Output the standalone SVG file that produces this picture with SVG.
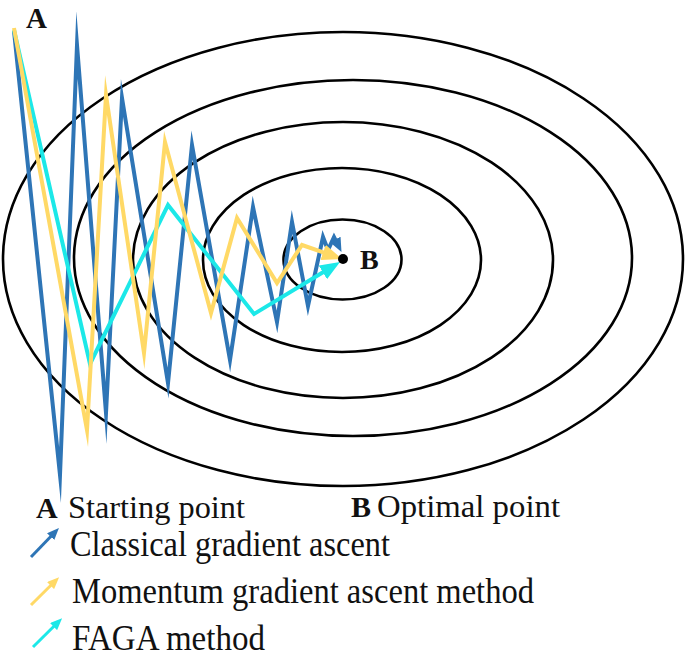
<svg xmlns="http://www.w3.org/2000/svg" width="685" height="663" viewBox="0 0 685 663">
<style>
.ring{fill:none;stroke:#000;stroke-width:2.6}
.path{fill:none;stroke-width:4;stroke-linejoin:miter;stroke-miterlimit:20}
.blue{stroke:#2E75B6}
.yellow{stroke:#FFD966}
.cyan{stroke:#1CE8E8}
.leg{fill:none;stroke-width:3}
.lbl{font-family:"Liberation Serif","Times New Roman",serif;fill:#111}
.bold{font-weight:bold}
.big{font-size:35px}
.mid{font-size:32px}
</style>
<defs>
<marker id="ah-b" viewBox="0 0 14 12" markerWidth="14" markerHeight="12" refX="4" refY="6" orient="auto" markerUnits="userSpaceOnUse"><path d="M0,0 L14,6 L0,12 z" fill="#2E75B6"/></marker>
<marker id="ah-y" viewBox="0 0 20 16" markerWidth="20" markerHeight="16" refX="4" refY="8" orient="auto" markerUnits="userSpaceOnUse"><path d="M0,0 L20,8 L0,16 z" fill="#FFD966"/></marker>
<marker id="ah-c" viewBox="0 0 20 16" markerWidth="20" markerHeight="16" refX="4" refY="8" orient="auto" markerUnits="userSpaceOnUse"><path d="M0,0 L20,8 L0,16 z" fill="#1CE8E8"/></marker>
<marker id="lg-b" viewBox="0 0 12 10" markerWidth="12" markerHeight="10" refX="3" refY="5" orient="auto" markerUnits="userSpaceOnUse"><path d="M0,0 L12,5 L0,10 z" fill="#2E75B6"/></marker>
<marker id="lg-y" viewBox="0 0 12 10" markerWidth="12" markerHeight="10" refX="3" refY="5" orient="auto" markerUnits="userSpaceOnUse"><path d="M0,0 L12,5 L0,10 z" fill="#FFD966"/></marker>
<marker id="lg-c" viewBox="0 0 12 10" markerWidth="12" markerHeight="10" refX="3" refY="5" orient="auto" markerUnits="userSpaceOnUse"><path d="M0,0 L12,5 L0,10 z" fill="#1CE8E8"/></marker>
</defs>
<g id="contours">
<ellipse class="ring" cx="343" cy="259" rx="340" ry="227"/>
<ellipse class="ring" cx="353" cy="258" rx="279" ry="178"/>
<ellipse class="ring" cx="343" cy="260" rx="210" ry="138"/>
<ellipse class="ring" cx="342" cy="260" rx="139" ry="92"/>
<ellipse class="ring" cx="342.5" cy="259.5" rx="59" ry="40"/>
</g>
<g id="connectors">
<path class="path blue" d="M14,31 L60,475 L77,45 L106,413 L122,98 L168,383 L192,145 L230,360 L253,207 L277,322 L292,222 L308,306 L323,237 L328,250 L334,237 L337,243" marker-end="url(#ah-b)"/>
<path class="path cyan" d="M14,30 L90,364 L168,205 L254,314 L326.3,270.3" marker-end="url(#ah-c)"/>
<path class="path yellow" d="M14,28 L87,430 L106,95 L144,353 L165,142 L211,313 L237,218 L277,283 L302,245 L326.9,253.7" marker-end="url(#ah-y)"/>
</g>
<g id="nodeA">
<text class="lbl bold" x="26" y="28" font-size="29">A</text>
</g>
<g id="nodeB">
<circle cx="343" cy="259" r="5" fill="#000"/>
<text class="lbl bold" x="360" y="269" font-size="28">B</text>
</g>
<g id="legend">
<text class="lbl bold" x="36" y="518" font-size="30">A</text>
<text class="lbl mid" x="68" y="518" textLength="177" lengthAdjust="spacingAndGlyphs">Starting point</text>
<text class="lbl bold" x="351" y="517" font-size="30">B</text>
<text class="lbl mid" x="377" y="517" textLength="183" lengthAdjust="spacingAndGlyphs">Optimal point</text>
<path class="leg blue" d="M31,557 L52.7,534.5" marker-end="url(#lg-b)"/>
<text class="lbl big" x="70" y="556" textLength="320" lengthAdjust="spacingAndGlyphs">Classical gradient ascent</text>
<path class="leg yellow" d="M31,605 L52.7,583.5" marker-end="url(#lg-y)"/>
<text class="lbl big" x="72" y="603" textLength="462" lengthAdjust="spacingAndGlyphs">Momentum gradient ascent method</text>
<path class="leg cyan" d="M33,647 L55.7,624.5" marker-end="url(#lg-c)"/>
<text class="lbl big" x="72" y="650" textLength="193" lengthAdjust="spacingAndGlyphs">FAGA method</text>
</g>
</svg>
